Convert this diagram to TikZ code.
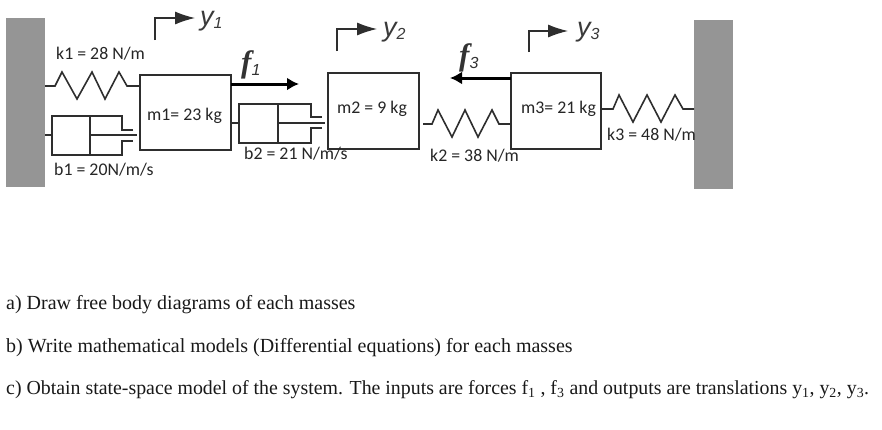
\documentclass[tikz,border=0pt]{standalone}
\usepackage{fontspec}
\setmainfont{Liberation Serif}
\newfontfamily\lblfont{Carlito}
\newfontfamily\varfont{Liberation Sans}
\usetikzlibrary{arrows.meta}
\definecolor{wallgray}{HTML}{959595}
\definecolor{linegray}{HTML}{2E2E2E}
\definecolor{vargray}{HTML}{3A3A3A}
\tikzset{
  wall/.style={fill=wallgray,draw=none,minimum width=39pt,minimum height=169pt,inner sep=0pt,outer sep=0pt},
  mass/.style={draw=linegray,line width=2pt,fill=white,inner sep=0pt,outer sep=0pt},
  lbl/.style={font=\lblfont\fontsize{17.8}{18}\selectfont,text=black!85,anchor=base west,inner sep=0pt},
  qtext/.style={font=\fontsize{20}{21}\selectfont,text=black!90,anchor=base west,inner sep=0pt},
  qtextc/.style={font=\fontsize{19.85}{21}\selectfont,text=black!90,anchor=base west,inner sep=0pt},
  varlbl/.style={font=\varfont\itshape\fontsize{27}{27}\selectfont,text=vargray,anchor=base west,inner sep=0pt},
  forcelbl/.style={font=\itshape\bfseries\fontsize{31}{31}\selectfont,text=black!80,anchor=base west,inner sep=0pt},
  springline/.style={draw=linegray,line width=1.6pt,line join=miter},
  dampline/.style={draw=linegray,line width=1.6pt},
  disp/.style={draw=linegray,line width=1.1pt,-{Latex[length=20pt,width=13pt]}},
  force/.style={draw=black,line width=3pt,-{Latex[length=12pt,width=13pt]}}
}
\newcommand{\lowsub}[1]{\raisebox{-3.5pt}{\fontsize{16}{16}\selectfont #1}}
\begin{document}
\begin{tikzpicture}[x=1pt,y=-1pt]
\useasboundingbox (0,0) rectangle (882,429);
\fill[white] (0,0) rectangle (882,429);
% walls and masses
\node[wall] (wl) at (25.5,102.5) {};
\node[wall] (wr) at (713.5,104.5) {};
\node[mass,minimum width=91pt,minimum height=75pt] (m1) at (185.5,112.5) {};
\node[mass,minimum width=91pt,minimum height=76pt] (m2) at (373.5,111) {};
\node[mass,minimum width=90pt,minimum height=76pt] (m3) at (556,111) {};
% spring k1
\draw[springline] (wl.east |- 0,86) -- (55,86) -- (62,72) -- (77,99) -- (92,72) -- (105,99) -- (119,72) -- (127,86) -- (m1.west |- 0,86);
% spring k2
\coordinate (k2s) at (423,124);
\draw[springline] (k2s) -- (432,124) -- (438,110) -- (452,137) -- (465,110) -- (478,137) -- (492,110) -- (499,124) -- (m3.west |- 0,124);
% spring k3
\draw[springline] (m3.east |- 0,109) -- (613,109) -- (619,95) -- (633,122) -- (647,95) -- (661,122) -- (675,95) -- (683,109) -- (wr.west |- 0,109);
% damper b1
\coordinate (r1) at (137,135);
\draw[dampline] (wl.east |- 0,135) -- (52,135);
\draw[dampline] (133,130) -- (122,130) -- (122,116) -- (52,116) -- (52,155) -- (122,155) -- (122,141) -- (133,141);
\draw[dampline] (90,116) -- (90,155);
\draw[dampline] (90,135) -- (r1);
% damper b2
\coordinate (r2) at (325,123);
\draw[dampline] (m1.east |- 0,123) -- (239,123);
\draw[dampline] (322,117) -- (311,117) -- (311,104) -- (239,104) -- (239,143) -- (311,143) -- (311,128) -- (322,128);
\draw[dampline] (278,104) -- (278,143);
\draw[dampline] (278,123) -- (r2);
% displacement arrows
\coordinate (d1) at (155,40); \coordinate (d1t) at (195,18);
\coordinate (d2) at (337,51); \coordinate (d2t) at (377,29);
\coordinate (d3) at (529,52); \coordinate (d3t) at (568,31);
\draw[disp] (d1) |- (d1t);
\draw[disp] (d2) |- (d2t);
\draw[disp] (d3) |- (d3t);
% force arrows
\coordinate (f1t) at (299,84);
\coordinate (f3t) at (450,78);
\draw[force] (m1.east |- f1t) -- (f1t);
\draw[force] (m3.west |- f3t) -- (f3t);
% labels
\node[varlbl] (ly1) at (200,25) {y\lowsub{1}};
\node[varlbl] (ly2) at (383,36) {y\lowsub{2}};
\node[varlbl] (ly3) at (577,36) {y\lowsub{3}};
\node[forcelbl] (lf1) at (241,72) {f\lowsub{\varfont\itshape\mdseries 1}};
\node[forcelbl] (lf3) at (459,65) {f\lowsub{\varfont\itshape\mdseries 3}};
\node[lbl] (lk1) at (56,59) {k1 = 28 N/m};
\node[lbl] (lb1) at (54,175) {b1 = 20N/m/s};
\node[lbl] (lm1) at (147,120) {m1= 23 kg};
\node[lbl] (lb2) at (244,159) {b2 = 21 N/m/s};
\node[lbl] (lm2) at (337,113) {m2 = 9 kg};
\node[lbl] (lk2) at (430,161) {k2 = 38 N/m};
\node[lbl] (lm3) at (521,113) {m3= 21 kg};
\node[lbl] (lk3) at (607,140) {k3 = 48 N/m};
% questions
\node[qtext] (qa) at (6,309) {a) Draw free body diagrams of each masses};
\node[qtext] (qb) at (6,352) {b) Write mathematical models (Differential equations) for each masses};
\node[qtextc] (qc) at (6,394) {c) Obtain state-space model of the system. The inputs are forces f\textsubscript{1} , f\textsubscript{3} and outputs are translations y\textsubscript{1}, y\textsubscript{2}, y\textsubscript{3}.};
\end{tikzpicture}
\end{document}
